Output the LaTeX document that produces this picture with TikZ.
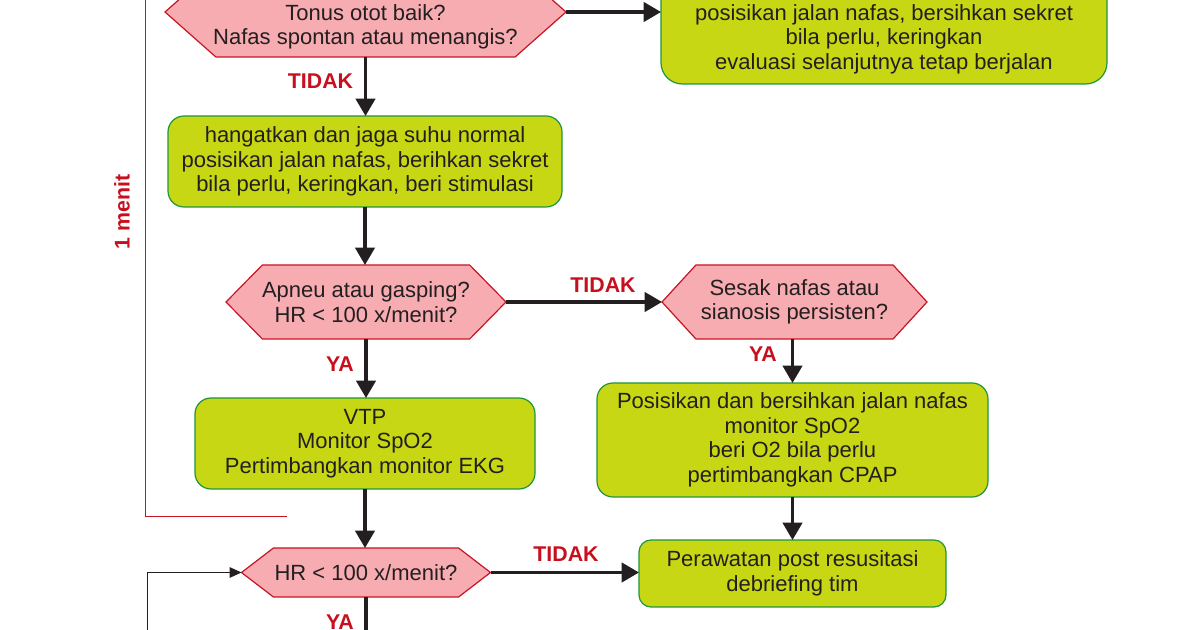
\documentclass[tikz,border=0pt]{standalone}
\usepackage{fontspec}
\setmainfont{Liberation Sans}
\usetikzlibrary{arrows.meta,shapes.symbols}

\definecolor{hexfill}{RGB}{247,172,178}
\definecolor{hexline}{RGB}{200,20,35}
\definecolor{boxfill}{RGB}{200,215,20}
\definecolor{boxline}{RGB}{30,150,60}
\definecolor{inkblack}{RGB}{35,31,32}
\definecolor{labelred}{RGB}{200,15,30}

\tikzset{
  hexbox/.style={signal,signal to=west and east,draw=hexline,fill=hexfill,line width=0.9pt,inner ysep=0pt,inner xsep=-14pt,outer sep=0pt,align=center,text=inkblack,font=\fontsize{16.5}{18.4}\selectfont},
  greenbox/.style={rectangle,rounded corners=12pt,draw=boxline,fill=boxfill,line width=0.9pt,inner sep=0pt,outer sep=0pt,align=center,text=inkblack,font=\fontsize{16.5}{18.4}\selectfont},
  flow/.style={draw=inkblack,line width=2.4pt,-{Triangle[length=13pt,width=14.5pt]}},
  thinflow/.style={draw=inkblack,line width=0.75pt,-{Triangle[length=9pt,width=8pt]}},
  redline/.style={draw=hexline,line width=1.1pt},
  answer/.style={text=labelred,font=\fontsize{16}{18}\selectfont\bfseries,inner sep=0pt}
}

\begin{document}
\begin{tikzpicture}[x=0.75pt,y=0.75pt,yscale=-1,xscale=1]
\clip (0,0) rectangle (1200,630);

%Shape: Hexagon
\node[hexbox,minimum width=300.75pt,minimum height=67.5pt,signal pointer angle=83] (tonus) at (365.5,12) {\phantom{Tg}\\[4.5pt]Tonus otot baik?\\Nafas spontan atau menangis?};
\node[hexbox,minimum width=210pt,minimum height=55.5pt,signal pointer angle=91] (apneu) at (366,302) {Apneu atau gasping?\\HR < 100 x/menit?};
\node[hexbox,minimum width=198.75pt,minimum height=55.5pt,signal pointer angle=95] (sesak) at (794.5,302) {Sesak nafas atau\\sianosis persisten?};
\node[hexbox,minimum width=186.75pt,minimum height=36.75pt,signal pointer angle=75] (hrcek) at (366,572.5) {HR < 100 x/menit?};

%Shape: Rounded Rectangle
\node[greenbox,minimum width=334.5pt,minimum height=108pt,rounded corners=16pt] (posisi) at (884,12) {\phantom{Tg}\\\phantom{Tg}\\[4.5pt]posisikan jalan nafas, bersihkan sekret\\bila perlu, keringkan\\evaluasi selanjutnya tetap berjalan};
\node[greenbox,minimum width=295.5pt,minimum height=68.25pt] (hangat) at (365,161.5) {hangatkan dan jaga suhu normal\\posisikan jalan nafas, berihkan sekret\\bila perlu, keringkan, beri stimulasi};
\node[greenbox,minimum width=255pt,minimum height=68.25pt] (vtp) at (365,443.5) {VTP\\Monitor SpO2\\Pertimbangkan monitor EKG};
\node[greenbox,minimum width=293.25pt,minimum height=85.5pt] (bersih) at (792.5,440) {Posisikan dan bersihkan jalan nafas\\monitor SpO2\\beri O2 bila perlu\\pertimbangkan CPAP};
\node[greenbox,minimum width=230.25pt,minimum height=50.25pt,rounded corners=9pt] (post) at (792.5,573.5) {Perawatan post resusitasi\\debriefing tim};

%Straight Lines
\draw[flow] (tonus.east) -- (tonus.east -| posisi.west);
\draw[flow] (tonus.south) -- (hangat.north -| tonus.south);
\draw[flow] (hangat.south) -- (apneu.north -| hangat.south);
\draw[flow] (apneu.east) -- (sesak.west);
\draw[flow] (apneu.south) -- (vtp.north -| apneu.south);
\draw[flow] (sesak.south -| bersih.north) -- (bersih.north);
\draw[flow] (vtp.south) -- (hrcek.north -| vtp.south);
\draw[flow] (bersih.south) -- (post.north);
\draw[flow] (hrcek.east) -- (hrcek.east -| post.west);
\coordinate (yaend) at (366,640);
\draw[draw=inkblack,line width=2.4pt] (hrcek.south) -- (yaend);

%Feedback line
\coordinate (backstart) at (147.5,640);
\draw[thinflow] (backstart) |- (hrcek.west);

%Time bracket
\coordinate (bracktop) at (145.3,-10);
\coordinate (brackend) at (287,516.3);
\draw[redline] (bracktop) |- (brackend);
\node[answer,rotate=90] (menit) at (122,212) {1 menit};

%Labels
\node[answer] (tidaka) at (320.5,81) {TIDAK};
\node[answer] (tidakb) at (603,285) {TIDAK};
\node[answer] (tidakc) at (566,554) {TIDAK};
\node[answer] (yaa) at (340,364) {YA};
\node[answer] (yab) at (763,354) {YA};
\node[answer] (yac) at (340,622) {YA};

\end{tikzpicture}
\end{document}
